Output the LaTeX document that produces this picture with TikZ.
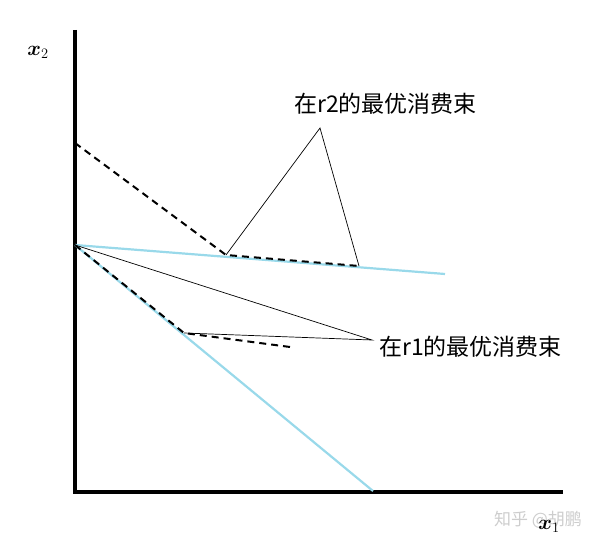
\documentclass[tikz,border=0pt]{standalone}
\usepackage{bm}
\usepackage{fontspec}
\newfontfamily\cjk{Noto Sans CJK SC}
\definecolor{budget}{RGB}{153,217,234}
\definecolor{wm}{RGB}{205,205,205}
\begin{document}
\begin{tikzpicture}[x=1pt,y=-1pt,
  axis/.style={line width=3.2pt},
  budgetline/.style={budget,line width=2.2pt},
  indiff/.style={line width=2pt,dash pattern=on 7pt off 5pt},
  pointer/.style={line width=0.7pt},
  lab/.style={font=\cjk\fontsize{23}{27}\selectfont,inner sep=0pt}]
\useasboundingbox (0,0) rectangle (600,545);
% axes
\coordinate (O) at (75,492);
\coordinate (ytop) at (75,30);
\coordinate (xend) at (563,492);
\draw[axis] (ytop) -- (O) -- (xend);
\node[font=\huge] (x2) at (38,52) {$\bm{x}_2$};
% watermark
\node[wm,font=\cjk\fontsize{17}{20}\selectfont,inner sep=0pt] (wmk) at (538,520) {知乎 @胡鹏};
\node[font=\huge] (x1) at (549,526) {$\bm{x}_1$};
% budget lines
\coordinate (A) at (75,245);
\coordinate (B2) at (445,274);
\coordinate (B1) at (373,491);
\draw[budgetline] (A) -- (B2);
\draw[budgetline] (A) -- (B1);
% indifference curves (dashed)
\coordinate (U2s) at (75,143);
\coordinate (E2) at (226,255);
\coordinate (U2e) at (359,266);
\draw[indiff] (U2s) -- (E2) -- (U2e);
\coordinate (E1) at (184,333);
\coordinate (U1e) at (290,347);
\draw[indiff] (A) -- (E1) -- (U1e);
% labels
\node[lab,anchor=west] (L2) at (294,104) {在r2的最优消费束};
\node[lab,anchor=west] (L1) at (379,347) {在r1的最优消费束};
% pointers
\coordinate (P2) at (320,128);
\draw[pointer] (E2) -- (P2) -- (U2e);
\coordinate (P1) at (372,340);
\draw[pointer] (A) -- (P1) -- (E1);
\end{tikzpicture}
\end{document}
